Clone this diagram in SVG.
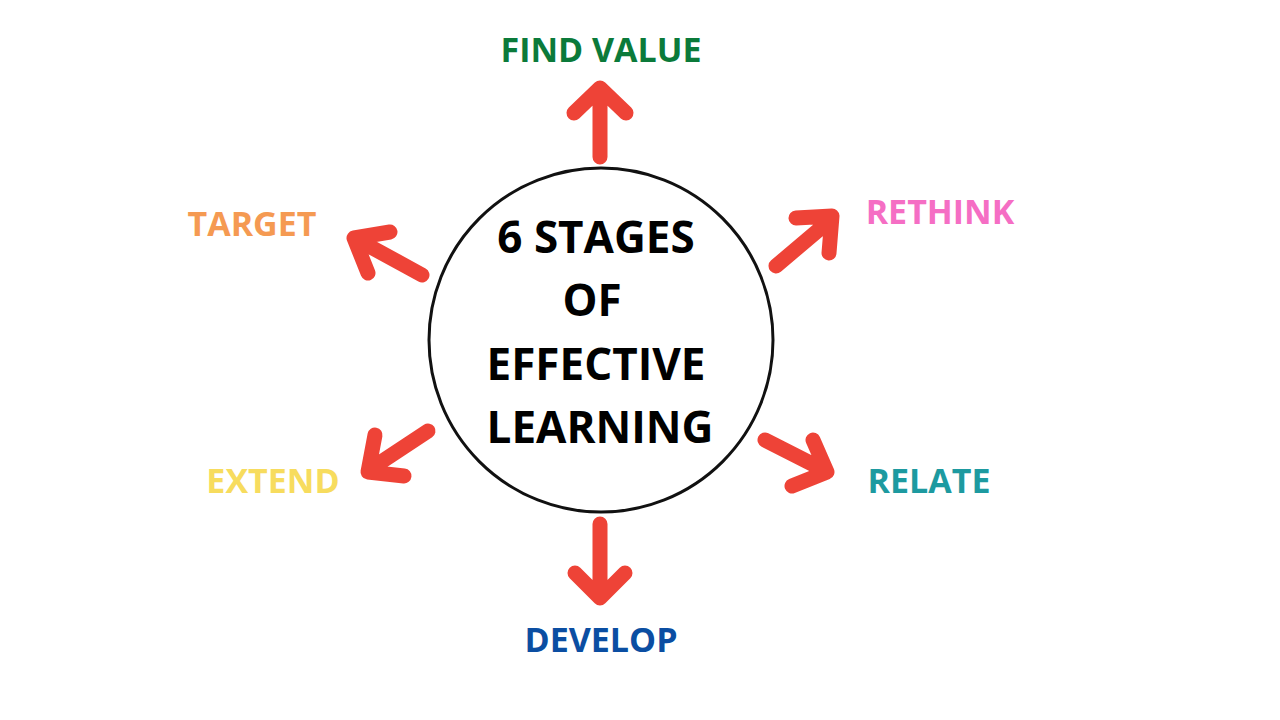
<svg xmlns="http://www.w3.org/2000/svg" width="1280" height="720" viewBox="0 0 1280 720">
<style>
.a{fill:none;stroke:#ee4337;stroke-width:15;stroke-linecap:round;stroke-linejoin:round}
.c{font-family:"Open Sans","Liberation Sans",sans-serif;font-weight:bold;font-size:44px;text-anchor:middle;fill:#000}
.l{font-family:"Open Sans","Liberation Sans",sans-serif;font-weight:bold;font-size:34px;text-anchor:middle}
</style>
<rect width="1280" height="720" fill="#fff"/>
<g id="center">
<circle cx="601" cy="340" r="172" fill="#fff" stroke="#111" stroke-width="3"/>
<text class="c" x="596" y="253">6 STAGES</text>
<text class="c" x="592" y="316">OF</text>
<text class="c" x="596" y="380">EFFECTIVE</text>
<text class="c" x="600" y="443">LEARNING</text>
</g>
<g id="connectors">
<path class="a" d="M600,157V92M574,113L600,88L626,113"/>
<path class="a" d="M776,266L828,222M796,218L832,216L829,253"/>
<path class="a" d="M422,275L358,240M390,232L354,238L368,273"/>
<path class="a" d="M428,431L372,468M375,435L368,472L404,476"/>
<path class="a" d="M765,440L824,470M813,440L827,472L792,486"/>
<path class="a" d="M600,524V596M575,573L600,598L625,573"/>
</g>
<g id="find-value"><text class="l" x="601" y="62" fill="#0b7a3a">FIND VALUE</text></g>
<g id="rethink"><text class="l" x="940" y="224" fill="#f56ec4">RETHINK</text></g>
<g id="target"><text class="l" x="252" y="236" fill="#f59a52">TARGET</text></g>
<g id="extend"><text class="l" x="273" y="493" fill="#f7dc5e">EXTEND</text></g>
<g id="relate"><text class="l" x="929" y="493" fill="#1d9aa0">RELATE</text></g>
<g id="develop"><text class="l" x="601" y="652" fill="#0b4ea2">DEVELOP</text></g>
</svg>
